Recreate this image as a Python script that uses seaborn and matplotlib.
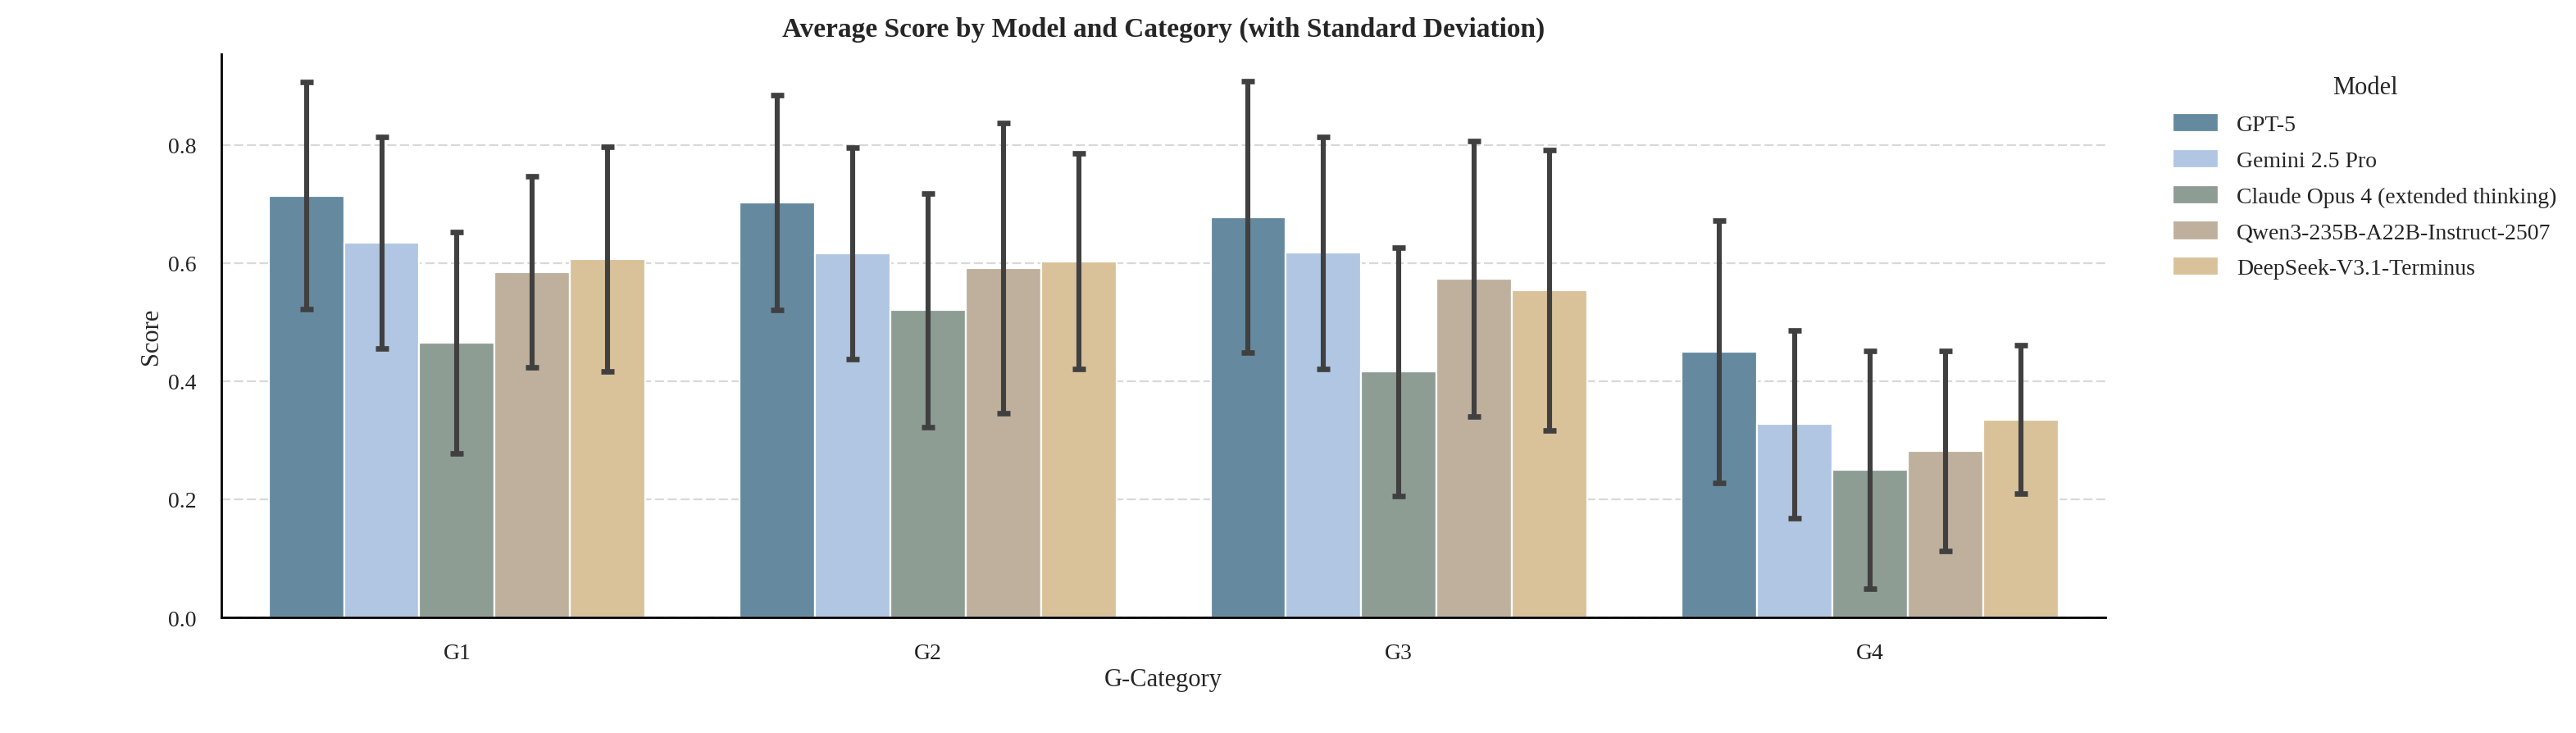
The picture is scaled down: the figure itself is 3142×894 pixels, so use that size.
import numpy as np
import pandas as pd
import matplotlib
matplotlib.use("Agg")
import matplotlib.pyplot as plt
import seaborn as sns

categories = ["G1", "G2", "G3", "G4"]
models = [
    "GPT-5",
    "Gemini 2.5 Pro",
    "Claude Opus 4 (extended thinking)",
    "Qwen3-235B-A22B-Instruct-2507",
    "DeepSeek-V3.1-Terminus",
]

# mean score per category (G1..G4)
mean_gpt5 = [0.714, 0.702, 0.678, 0.450]
mean_gemini = [0.634, 0.616, 0.617, 0.327]
mean_claude = [0.465, 0.520, 0.416, 0.250]
mean_qwen = [0.585, 0.591, 0.573, 0.282]
mean_deepseek = [0.607, 0.603, 0.554, 0.335]

# standard deviation per category
sd_gpt5 = [0.192, 0.182, 0.230, 0.222]
sd_gemini = [0.179, 0.179, 0.196, 0.159]
sd_claude = [0.187, 0.198, 0.210, 0.201]
sd_qwen = [0.162, 0.246, 0.233, 0.169]
sd_deepseek = [0.190, 0.183, 0.237, 0.126]

colors = ["#658A9F", "#B0C6E2", "#8E9D94", "#BEB09C", "#D9C199"]

means = [mean_gpt5, mean_gemini, mean_claude, mean_qwen, mean_deepseek]
sds = [sd_gpt5, sd_gemini, sd_claude, sd_qwen, sd_deepseek]

rows = []
for m, mv in zip(models, means):
    for c, v in zip(categories, mv):
        rows.append({"G-Category": c, "Model": m, "Score": v})
df = pd.DataFrame(rows)

sns.set_theme(style="white")
plt.rcParams["font.family"] = ["Liberation Serif", "DejaVu Serif"]

fig, ax = plt.subplots(figsize=(15.71, 4.475), dpi=200)
fig.subplots_adjust(left=0.086, right=0.8173, top=0.925, bottom=0.1575)

sns.barplot(data=df, x="G-Category", y="Score", hue="Model",
            order=categories, hue_order=models, palette=colors, saturation=1,
            edgecolor="white", linewidth=0.8, errorbar=None, ax=ax)

# error bars: standard deviation, placed on the bars seaborn drew
for container, sd in zip(ax.containers, sds):
    xs = [b.get_x() + b.get_width() / 2 for b in container]
    ys = [b.get_height() for b in container]
    ax.errorbar(xs, ys, yerr=sd, fmt="none", ecolor="#404040",
                elinewidth=2.2, capsize=3, capthick=2.4, zorder=5)

ax.set_xlim(-0.5, len(categories) - 0.5)
ax.set_ylim(bottom=0)
ax.yaxis.grid(True, linestyle=(0, (5, 2)), color="#d9d9d9", linewidth=0.8)
ax.set_axisbelow(True)
sns.despine(ax=ax)
for s in ["left", "bottom"]:
    ax.spines[s].set_color("black")
    ax.spines[s].set_linewidth(1.0)

ax.set_title("Average Score by Model and Category (with Standard Deviation)",
             fontsize=12, fontweight="bold", pad=8)
ax.set_xlabel("G-Category", fontsize=11, labelpad=2)
ax.set_ylabel("Score", fontsize=11, labelpad=2)
ax.tick_params(axis="both", labelsize=10, colors="#222222")
ax.tick_params(axis="x", pad=5)
ax.tick_params(axis="y", pad=5)

sns.move_legend(ax, "upper left", bbox_to_anchor=(1.025, 0.998), frameon=False,
                title="Model", fontsize=10, title_fontsize=11, labelspacing=0.6,
                handleheight=0.9)

fig.savefig("out.png", dpi=200)
